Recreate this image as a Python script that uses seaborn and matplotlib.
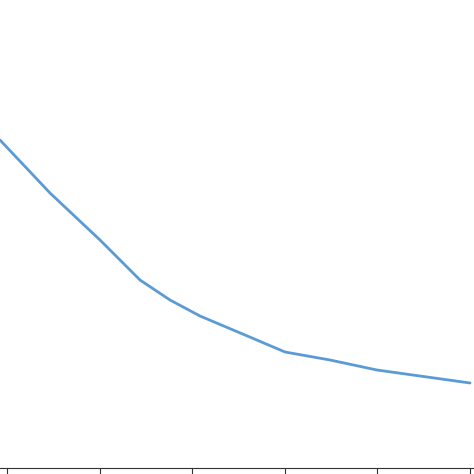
import matplotlib
matplotlib.use('Agg')
import matplotlib.pyplot as plt
import seaborn as sns
import pandas as pd

sns.set_style('ticks')

X_VALUES = [-0.076, 0.464, 1.004, 1.436, 1.76, 2.084, 2.57, 3.002, 3.488, 3.995, 5.0]
Y_VALUES = [328, 275, 228, 188, 168, 152, 133, 116, 108, 98, 85]
X_TICKS = [0, 1, 2, 3, 4, 5]

df = pd.DataFrame({'x': X_VALUES, 'y': Y_VALUES})

fig = plt.figure(figsize=(4.74, 4.74), dpi=100)
ax = fig.add_axes([0, 6 / 474, 1, 468 / 474])
sns.lineplot(data=df, x='x', y='y', ax=ax, color='#5b9bd5', linewidth=2)
ax.set_xlim(-0.076, 5.043)
ax.set_ylim(0, 468)
ax.set_xticks(X_TICKS)
ax.set_xticklabels([])
ax.set_yticks([])
ax.set_xlabel('')
ax.set_ylabel('')
for s in ('top', 'right', 'left'):
    ax.spines[s].set_visible(False)
ax.spines['bottom'].set_color('#333333')
ax.tick_params(axis='x', direction='out', length=6, color='#333333')
fig.savefig('out.png', dpi=100)
